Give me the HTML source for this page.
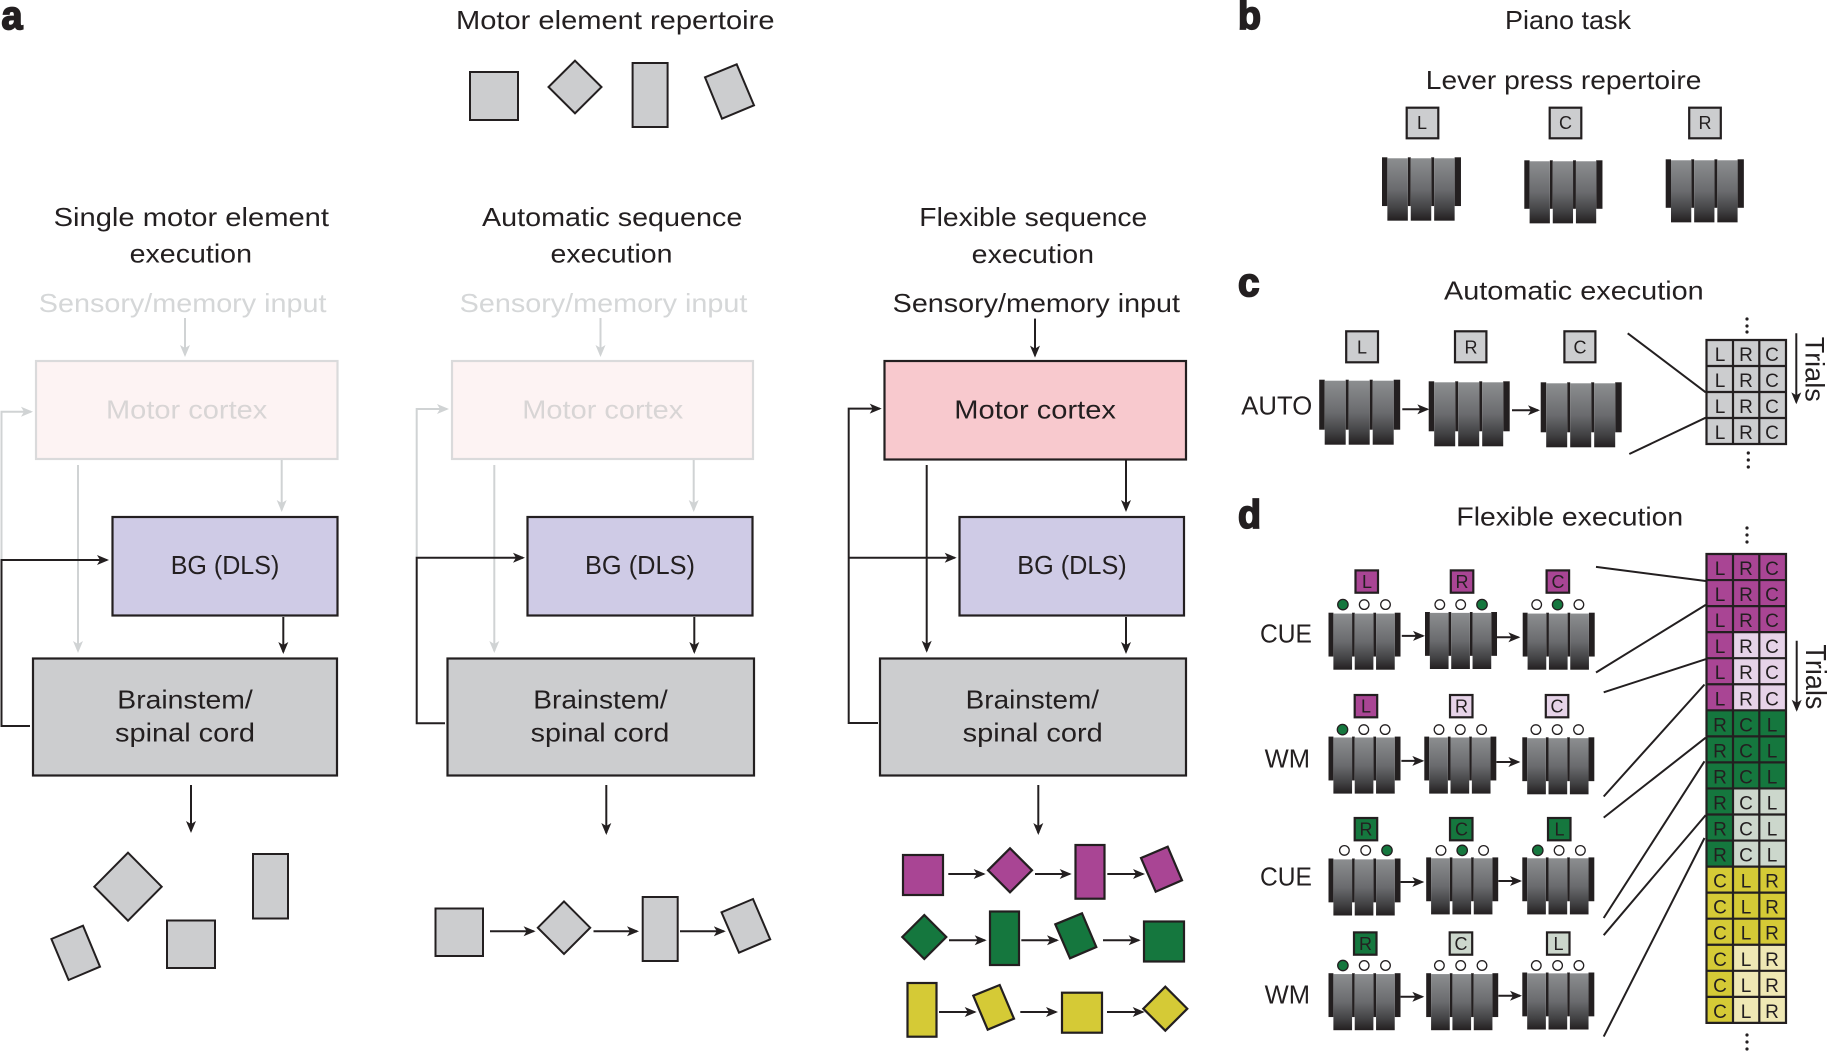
<!DOCTYPE html>
<html><head><meta charset="utf-8"><title>Motor sequence diagram</title>
<style>
html,body{margin:0;padding:0;background:#fff}
svg{display:block}
text{font-family:"Liberation Sans",sans-serif;fill:#231f20}
</style></head><body>
<svg xmlns="http://www.w3.org/2000/svg" width="1828" height="1052" viewBox="0 0 1828 1052">
<defs>
<linearGradient id="g" x1="0" y1="0" x2="0" y2="1"><stop offset="0" stop-color="#8c8e90"/><stop offset=".5" stop-color="#6a6b6e"/><stop offset=".8" stop-color="#424244"/><stop offset="1" stop-color="#231f20"/></linearGradient>
<marker id="k" markerUnits="userSpaceOnUse" markerWidth="14" markerHeight="12" refX="10" refY="6" orient="auto"><path d="M0,1 L12,6 L0,11 L3,6z" fill="#231f20"/></marker>
<marker id="y" markerUnits="userSpaceOnUse" markerWidth="14" markerHeight="12" refX="10" refY="6" orient="auto"><path d="M0,1 L12,6 L0,11 L3,6z" fill="#d0d3d4"/></marker>
<g id="lv"><g fill="#231f20"><rect x="0" y="0" width="5.5" height="50"/><rect x="26.5" y="0" width="3" height="50"/><rect x="50.5" y="0" width="3" height="50"/><rect x="74.5" y="0" width="6.5" height="50"/></g><g fill="url(#g)"><rect x="5.5" y="1" width="21" height="64"/><rect x="29.5" y="1" width="21" height="64"/><rect x="53.5" y="1" width="21" height="64"/></g></g>
</defs>
<rect width="1828" height="1052" fill="#fff"/>

<!-- panel letters -->
<g font-weight="bold" font-size="40" stroke="#231f20" stroke-width="1.8">
<text x="1.5" y="29" textLength="21" lengthAdjust="spacingAndGlyphs">a</text>
<text x="1238" y="29" textLength="23" lengthAdjust="spacingAndGlyphs">b</text>
<text x="1238" y="296" textLength="21.5" lengthAdjust="spacingAndGlyphs">c</text>
<text x="1238" y="528" textLength="23" lengthAdjust="spacingAndGlyphs">d</text>
</g>

<!-- headers -->
<g font-size="26">
<text x="456" y="29" textLength="318.5" lengthAdjust="spacingAndGlyphs">Motor element repertoire</text>
<text x="53.6" y="226" textLength="275.4" lengthAdjust="spacingAndGlyphs">Single motor element</text>
<text x="129.6" y="262.7" textLength="122.4" lengthAdjust="spacingAndGlyphs">execution</text>
<text x="482" y="226" textLength="260.3" lengthAdjust="spacingAndGlyphs">Automatic sequence</text>
<text x="550.5" y="262.7" textLength="122" lengthAdjust="spacingAndGlyphs">execution</text>
<text x="919.3" y="226" textLength="228" lengthAdjust="spacingAndGlyphs">Flexible sequence</text>
<text x="971.7" y="263" textLength="122.3" lengthAdjust="spacingAndGlyphs">execution</text>
<text x="892.7" y="312" textLength="287.3" lengthAdjust="spacingAndGlyphs">Sensory/memory input</text>
<text x="38.8" y="312" textLength="287.7" lengthAdjust="spacingAndGlyphs" style="fill:#d5d7d8">Sensory/memory input</text>
<text x="459.7" y="312" textLength="287.7" lengthAdjust="spacingAndGlyphs" style="fill:#d5d7d8">Sensory/memory input</text>
<text x="1505" y="29" textLength="126" lengthAdjust="spacingAndGlyphs">Piano task</text>
<text x="1425.8" y="89" textLength="275.6" lengthAdjust="spacingAndGlyphs">Lever press repertoire</text>
<text x="1444" y="299.3" textLength="259.7" lengthAdjust="spacingAndGlyphs">Automatic execution</text>
<text x="1456.4" y="525.7" textLength="226.8" lengthAdjust="spacingAndGlyphs">Flexible execution</text>
<text x="1241.3" y="414.3" textLength="70.9" lengthAdjust="spacingAndGlyphs">AUTO</text>
<text x="1260" y="642.6" textLength="51.9" lengthAdjust="spacingAndGlyphs">CUE</text>
<text x="1264.6" y="767.6" textLength="45.4" lengthAdjust="spacingAndGlyphs">WM</text>
<text x="1260" y="885.6" textLength="51.9" lengthAdjust="spacingAndGlyphs">CUE</text>
<text x="1264.6" y="1003.5" textLength="45.4" lengthAdjust="spacingAndGlyphs">WM</text>
</g>

<!-- repertoire shapes -->
<g fill="#cccdcf" stroke="#231f20" stroke-width="2">
<rect x="470" y="72" width="48" height="48"/>
<polygon points="575,60.7 601.5,87 575,113.3 548.5,87"/>
<rect x="632.6" y="63" width="35" height="64"/>
<polygon points="705,77.3 736.7,64.3 754,105.3 722,118.7"/>
<!-- col 1 outputs -->
<polygon points="128,852.7 161.7,886.7 128,920.7 94.3,886.7"/>
<rect x="253" y="854" width="35" height="64.5"/>
<rect x="167" y="920.5" width="48" height="47.5"/>
<polygon points="51.4,939 83,925.7 100,966.7 68.6,980"/>
<!-- col 2 outputs -->
<rect x="435.5" y="908.5" width="47.5" height="47.5"/>
<polygon points="564,901.4 590.2,927.7 564,954 537.8,927.7"/>
<rect x="642.7" y="897" width="35" height="64"/>
<polygon points="721.5,912.3 753,899 770.2,939.3 739,952.7"/>
</g>

<!-- coloured sequences -->
<g stroke="#231f20" stroke-width="2.2">
<g fill="#a94594">
<rect x="903" y="855" width="40" height="40"/>
<polygon points="1010,848.3 1032,870.3 1010,892.3 988,870.3"/>
<rect x="1075.5" y="845" width="29" height="53.7"/>
<polygon points="1141,858 1167.7,846.7 1182,880.3 1155.7,891.7"/>
</g>
<g fill="#15773e">
<polygon points="924.3,915 946.3,937 924.3,959 902.3,937"/>
<rect x="990" y="911.5" width="29" height="53.5"/>
<polygon points="1055.3,924.3 1082,913.3 1096.3,947 1070,958.3"/>
<rect x="1144" y="921.5" width="40" height="40"/>
</g>
<g fill="#d5ca36">
<rect x="907.5" y="983" width="29" height="53.7"/>
<polygon points="973.3,995.7 999.7,985 1014,1018.7 987.7,1029.7"/>
<rect x="1062" y="992.7" width="40" height="40"/>
<polygon points="1165.3,986.7 1187.3,1008.7 1165.3,1030.7 1143.3,1008.7"/>
</g>
</g>

<!-- block boxes -->
<g stroke-width="2.2">
<rect x="36" y="361" width="301.5" height="98" fill="#fdf3f3" stroke="#dadadb"/>
<rect x="452" y="361" width="301" height="98" fill="#fdf3f3" stroke="#dadadb"/>
<rect x="884.5" y="361" width="301.5" height="98.5" fill="#f8c9ce" stroke="#231f20"/>
<g fill="#cfcbe6" stroke="#231f20">
<rect x="112.5" y="517" width="225" height="98.5"/>
<rect x="527.5" y="517" width="225" height="98.5"/>
<rect x="959.5" y="517" width="224.5" height="98.5"/>
</g>
<g fill="#cccdcf" stroke="#231f20">
<rect x="33" y="658.5" width="304" height="117"/>
<rect x="447.5" y="658.5" width="306.5" height="117"/>
<rect x="880" y="658.5" width="306" height="117"/>
</g>
</g>
<g font-size="26">
<text x="106" y="418.7" textLength="161.3" lengthAdjust="spacingAndGlyphs" style="fill:#d8d5d5">Motor cortex</text>
<text x="522.3" y="418.7" textLength="161" lengthAdjust="spacingAndGlyphs" style="fill:#d8d5d5">Motor cortex</text>
<text x="954.3" y="418.7" textLength="161.7" lengthAdjust="spacingAndGlyphs">Motor cortex</text>
<text x="170.7" y="574" textLength="108.6" lengthAdjust="spacingAndGlyphs">BG (DLS)</text>
<text x="585" y="574" textLength="110" lengthAdjust="spacingAndGlyphs">BG (DLS)</text>
<text x="1017.3" y="574" textLength="109.4" lengthAdjust="spacingAndGlyphs">BG (DLS)</text>
<text x="117.3" y="708.5" textLength="135.4" lengthAdjust="spacingAndGlyphs">Brainstem/</text>
<text x="115" y="741.5" textLength="140" lengthAdjust="spacingAndGlyphs">spinal cord</text>
<text x="533.3" y="708.5" textLength="134.4" lengthAdjust="spacingAndGlyphs">Brainstem/</text>
<text x="530.7" y="741.5" textLength="138.6" lengthAdjust="spacingAndGlyphs">spinal cord</text>
<text x="965.7" y="708.5" textLength="133.3" lengthAdjust="spacingAndGlyphs">Brainstem/</text>
<text x="962.7" y="741.5" textLength="140" lengthAdjust="spacingAndGlyphs">spinal cord</text>
</g>

<!-- grey arrows -->
<g fill="none" stroke="#d0d3d4" stroke-width="2">
<path d="M185,318V355" marker-end="url(#y)"/>
<path d="M600.5,318V355" marker-end="url(#y)"/>
<path d="M78,465V651" marker-end="url(#y)"/>
<path d="M281.7,460V510" marker-end="url(#y)"/>
<path d="M494.3,465V651" marker-end="url(#y)"/>
<path d="M693.7,460V510" marker-end="url(#y)"/>
<path d="M1.5,560V411.7H31" marker-end="url(#y)"/>
<path d="M416.7,557.7V409H447" marker-end="url(#y)"/>
</g>

<!-- dark arrows -->
<g fill="none" stroke="#231f20" stroke-width="2">
<path d="M30,726H1.5V560H107" marker-end="url(#k)"/>
<path d="M445,723.3H416.7V557.7H523" marker-end="url(#k)"/>
<path d="M878,723H848.7V408.6H879.7" marker-end="url(#k)"/>
<path d="M848.7,557.8H954.7" marker-end="url(#k)"/>
<path d="M926.7,465V650.7" marker-end="url(#k)"/>
<path d="M1126,460V510" marker-end="url(#k)"/>
<path d="M1126,617V652" marker-end="url(#k)"/>
<path d="M283.3,617V652" marker-end="url(#k)"/>
<path d="M694.3,617V652" marker-end="url(#k)"/>
<path d="M1035,318.6V355.6" marker-end="url(#k)"/>
<path d="M191,785V831" marker-end="url(#k)"/>
<path d="M606.3,785V833" marker-end="url(#k)"/>
<path d="M1038.3,785V833" marker-end="url(#k)"/>
<path d="M490,931.3H533.6" marker-end="url(#k)"/>
<path d="M593.5,931.3H637" marker-end="url(#k)"/>
<path d="M680,931.3H723.8" marker-end="url(#k)"/>
<path d="M948.3,874H983.7" marker-end="url(#k)"/>
<path d="M1035,874H1069.7" marker-end="url(#k)"/>
<path d="M1107.3,874H1143" marker-end="url(#k)"/>
<path d="M949,940.3H984.7" marker-end="url(#k)"/>
<path d="M1021.3,940.3H1057" marker-end="url(#k)"/>
<path d="M1103,940.3H1138.7" marker-end="url(#k)"/>
<path d="M939,1012H974.7" marker-end="url(#k)"/>
<path d="M1020.3,1012H1056" marker-end="url(#k)"/>
<path d="M1107,1012H1142.7" marker-end="url(#k)"/>
<path d="M1402.3,409.3H1427.3" marker-end="url(#k)"/>
<path d="M1512,410.3H1538" marker-end="url(#k)"/>
<path d="M1401.8,635.9H1423" marker-end="url(#k)"/>
<path d="M1497,637.3H1518.4" marker-end="url(#k)"/>
<path d="M1401.4,760.9H1422.3" marker-end="url(#k)"/>
<path d="M1496.4,762H1518.4" marker-end="url(#k)"/>
<path d="M1400.6,882H1422.3" marker-end="url(#k)"/>
<path d="M1498.3,881H1520" marker-end="url(#k)"/>
<path d="M1400.6,996.8H1422.3" marker-end="url(#k)"/>
<path d="M1498.3,995.8H1520" marker-end="url(#k)"/>
<path d="M1796.3,333.3V402.3" marker-end="url(#k)"/>
<path d="M1796.7,640.8V709.7" marker-end="url(#k)"/>
<!-- leader lines -->
<path d="M1627.7,333.3L1705.7,392.3M1629.3,454L1705.7,417.7"/>
<path d="M1596,566.9L1705.7,581M1596,672.5L1705.7,604.9M1603.7,692.3L1705.7,659.2M1603.7,796.5L1704.5,684.5M1603.7,817.6L1705.7,737.7M1603.7,918L1704.5,761.3M1603.7,935.2L1705.7,815.1M1603.7,1036.6L1704.5,838"/>
</g>

<!-- levers -->
<use href="#lv" transform="translate(1382,157.3) scale(.975,.975)"/>
<use href="#lv" transform="translate(1524.3,160.3) scale(.965,.97)"/>
<use href="#lv" transform="translate(1665.7,159.3) scale(.965,.97)"/>
<use href="#lv" transform="translate(1319.2,379.7)"/>
<use href="#lv" transform="translate(1428.7,381.3)"/>
<use href="#lv" transform="translate(1540.7,382.3)"/>
<use href="#lv" transform="translate(1328.5,612.7) scale(.889,.877)"/>
<use href="#lv" transform="translate(1425,612) scale(.889,.877)"/>
<use href="#lv" transform="translate(1522.7,612.7) scale(.889,.877)"/>
<use href="#lv" transform="translate(1328.5,736.6) scale(.889,.877)"/>
<use href="#lv" transform="translate(1424.3,736.6) scale(.889,.877)"/>
<use href="#lv" transform="translate(1522.3,737.3) scale(.889,.877)"/>
<use href="#lv" transform="translate(1328.5,858.5) scale(.889,.877)"/>
<use href="#lv" transform="translate(1426.2,857.4) scale(.889,.877)"/>
<use href="#lv" transform="translate(1522.3,857.4) scale(.889,.877)"/>
<use href="#lv" transform="translate(1328.5,973.2) scale(.889,.877)"/>
<use href="#lv" transform="translate(1426.2,973.2) scale(.889,.877)"/>
<use href="#lv" transform="translate(1522.3,972.5) scale(.889,.877)"/>

<!-- small key boxes -->
<g stroke="#231f20" stroke-width="2.2" fill="#cccdcf">
<rect x="1406.7" y="107.7" width="31.6" height="30.6"/>
<rect x="1549.7" y="107.7" width="31.6" height="30.6"/>
<rect x="1689.2" y="107.7" width="31.6" height="30.6"/>
<rect x="1346.2" y="331.3" width="31.8" height="31"/>
<rect x="1455" y="331.3" width="31.4" height="31"/>
<rect x="1564.4" y="331.3" width="31" height="31"/>
<g fill="#a94594">
<rect x="1355.5" y="570.4" width="22.5" height="22.3"/>
<rect x="1450.8" y="570.4" width="22.5" height="22.3"/>
<rect x="1546.6" y="570.4" width="22.5" height="22.3"/>
<rect x="1354.7" y="695" width="22.5" height="22.3"/>
</g>
<g fill="#e6d3e8">
<rect x="1450" y="695" width="22.5" height="22.3"/>
<rect x="1545.8" y="695" width="22.5" height="22.3"/>
</g>
<g fill="#15773e">
<rect x="1354.7" y="818" width="22.5" height="22.3"/>
<rect x="1450" y="818" width="22.5" height="22.3"/>
<rect x="1548" y="818" width="22.5" height="22.3"/>
<rect x="1354" y="932.4" width="22.5" height="22.3"/>
</g>
<g fill="#ccd7cc">
<rect x="1449.7" y="932.4" width="22.5" height="22.3"/>
<rect x="1547" y="932.4" width="22.5" height="22.3"/>
</g>
</g>
<g font-size="18" text-anchor="middle">
<text x="1422" y="129">L</text><text x="1565.5" y="129">C</text><text x="1705" y="129">R</text>
<text x="1362" y="353.5">L</text><text x="1471" y="353.5">R</text><text x="1580" y="353.5">C</text>
<text x="1367" y="588">L</text><text x="1462" y="588">R</text><text x="1558" y="588">C</text>
<text x="1366" y="712.5">L</text><text x="1461.5" y="712.5">R</text><text x="1557" y="712.5">C</text>
<text x="1366" y="835.5">R</text><text x="1461.5" y="835.5">C</text><text x="1559.5" y="835.5">L</text>
<text x="1365.5" y="950">R</text><text x="1461" y="950">C</text><text x="1558.5" y="950">L</text>
</g>

<!-- circles -->
<g stroke="#231f20" stroke-width="1.3" fill="#fff">
<circle cx="1364.2" cy="604.6" r="4.8"/><circle cx="1385.5" cy="604.6" r="4.8"/>
<circle cx="1439.8" cy="604.6" r="4.8"/><circle cx="1460.7" cy="604.6" r="4.8"/>
<circle cx="1536.7" cy="604.6" r="4.8"/><circle cx="1578.9" cy="604.6" r="4.8"/>
<circle cx="1363.8" cy="729.6" r="4.8"/><circle cx="1385.1" cy="729.6" r="4.8"/>
<circle cx="1439" cy="729.6" r="4.8"/><circle cx="1460.3" cy="729.6" r="4.8"/><circle cx="1481.6" cy="729.6" r="4.8"/>
<circle cx="1535.9" cy="729.6" r="4.8"/><circle cx="1557.2" cy="729.6" r="4.8"/><circle cx="1578.5" cy="729.6" r="4.8"/>
<circle cx="1344.4" cy="850.4" r="4.8"/><circle cx="1365.7" cy="850.4" r="4.8"/>
<circle cx="1441" cy="850.4" r="4.8"/><circle cx="1483.6" cy="850.4" r="4.8"/>
<circle cx="1559.1" cy="850.4" r="4.8"/><circle cx="1580.4" cy="850.4" r="4.8"/>
<circle cx="1364.2" cy="965.5" r="4.8"/><circle cx="1385.5" cy="965.5" r="4.8"/>
<circle cx="1439.4" cy="965.5" r="4.8"/><circle cx="1460.7" cy="965.5" r="4.8"/><circle cx="1482" cy="965.5" r="4.8"/>
<circle cx="1536.3" cy="965.5" r="4.8"/><circle cx="1557.6" cy="965.5" r="4.8"/><circle cx="1578.9" cy="965.5" r="4.8"/>
<g fill="#15773e">
<circle cx="1342.9" cy="604.6" r="5.2"/><circle cx="1482" cy="604.6" r="5.2"/><circle cx="1557.6" cy="604.6" r="5.2"/>
<circle cx="1342.5" cy="729.6" r="5.2"/>
<circle cx="1387" cy="850.4" r="5.2"/><circle cx="1462.2" cy="850.4" r="5.2"/><circle cx="1537.8" cy="850.4" r="5.2"/>
<circle cx="1342.9" cy="965.5" r="5.2"/>
</g>
</g>

<!-- dots -->
<g fill="#231f20">
<circle cx="1747" cy="319" r="1.6"/><circle cx="1747" cy="326" r="1.6"/><circle cx="1747" cy="332" r="1.6"/>
<circle cx="1748.3" cy="453" r="1.6"/><circle cx="1748.3" cy="460" r="1.6"/><circle cx="1748.3" cy="467" r="1.6"/>
<circle cx="1747" cy="528" r="1.6"/><circle cx="1747" cy="535" r="1.6"/><circle cx="1747" cy="542" r="1.6"/>
<circle cx="1747" cy="1035" r="1.6"/><circle cx="1747" cy="1042" r="1.6"/><circle cx="1747" cy="1049" r="1.6"/>
</g>

<!-- panel c grid -->
<rect x="1706.5" y="340" width="79.5" height="104" fill="#cccdcf"/>
<path d="M1706.5,340H1786V444H1706.5ZM1733,340V444M1759.3,340V444M1706.5,366H1786M1706.5,392H1786M1706.5,418H1786" fill="none" stroke="#231f20" stroke-width="2.2"/>
<g font-size="19" text-anchor="middle">
<text x="1720 1746 1772" y="361">LRC</text>
<text x="1720 1746 1772" y="387">LRC</text>
<text x="1720 1746 1772" y="413">LRC</text>
<text x="1720 1746 1772" y="439">LRC</text>
</g>

<!-- panel d grid -->
<rect x="1706.5" y="554" width="26.5" height="156.3" fill="#a94594"/>
<rect x="1733" y="554" width="53" height="78.15" fill="#a94594"/>
<rect x="1733" y="632.15" width="53" height="78.15" fill="#e6d3e8"/>
<rect x="1706.5" y="710.3" width="26.5" height="156.3" fill="#15773e"/>
<rect x="1733" y="710.3" width="53" height="78.15" fill="#15773e"/>
<rect x="1733" y="788.45" width="53" height="78.15" fill="#ccd7cc"/>
<rect x="1706.5" y="866.6" width="26.5" height="156.3" fill="#d5ca36"/>
<rect x="1733" y="866.6" width="53" height="78.15" fill="#d5ca36"/>
<rect x="1733" y="944.75" width="53" height="78.15" fill="#efe8b4"/>
<path d="M1706.5,554H1786V1022.9H1706.5ZM1733,554V1022.9M1759.3,554V1022.9M1706.5,580.05H1786M1706.5,606.1H1786M1706.5,632.15H1786M1706.5,658.2H1786M1706.5,684.25H1786M1706.5,710.3H1786M1706.5,736.35H1786M1706.5,762.4H1786M1706.5,788.45H1786M1706.5,814.5H1786M1706.5,840.55H1786M1706.5,866.6H1786M1706.5,892.65H1786M1706.5,918.7H1786M1706.5,944.75H1786M1706.5,970.8H1786M1706.5,996.85H1786" fill="none" stroke="#231f20" stroke-width="2.2"/>
<g font-size="19" text-anchor="middle">
<text x="1720 1746 1772" y="575">LRC</text>
<text x="1720 1746 1772" y="601">LRC</text>
<text x="1720 1746 1772" y="627.1">LRC</text>
<text x="1720 1746 1772" y="653.2">LRC</text>
<text x="1720 1746 1772" y="679.2">LRC</text>
<text x="1720 1746 1772" y="705.3">LRC</text>
<text x="1720 1746 1772" y="731.3">RCL</text>
<text x="1720 1746 1772" y="757.4">RCL</text>
<text x="1720 1746 1772" y="783.4">RCL</text>
<text x="1720 1746 1772" y="809.5">RCL</text>
<text x="1720 1746 1772" y="835.5">RCL</text>
<text x="1720 1746 1772" y="861.6">RCL</text>
<text x="1720 1746 1772" y="887.6">CLR</text>
<text x="1720 1746 1772" y="913.7">CLR</text>
<text x="1720 1746 1772" y="939.7">CLR</text>
<text x="1720 1746 1772" y="965.8">CLR</text>
<text x="1720 1746 1772" y="991.8">CLR</text>
<text x="1720 1746 1772" y="1017.9">CLR</text>
</g>

<!-- Trials -->
<text transform="translate(1805.5,336.7) rotate(90)" font-size="26.5" textLength="65" lengthAdjust="spacingAndGlyphs">Trials</text>
<text transform="translate(1806,644.4) rotate(90)" font-size="28.5" textLength="65" lengthAdjust="spacingAndGlyphs">Trials</text>
</svg>
</body></html>
